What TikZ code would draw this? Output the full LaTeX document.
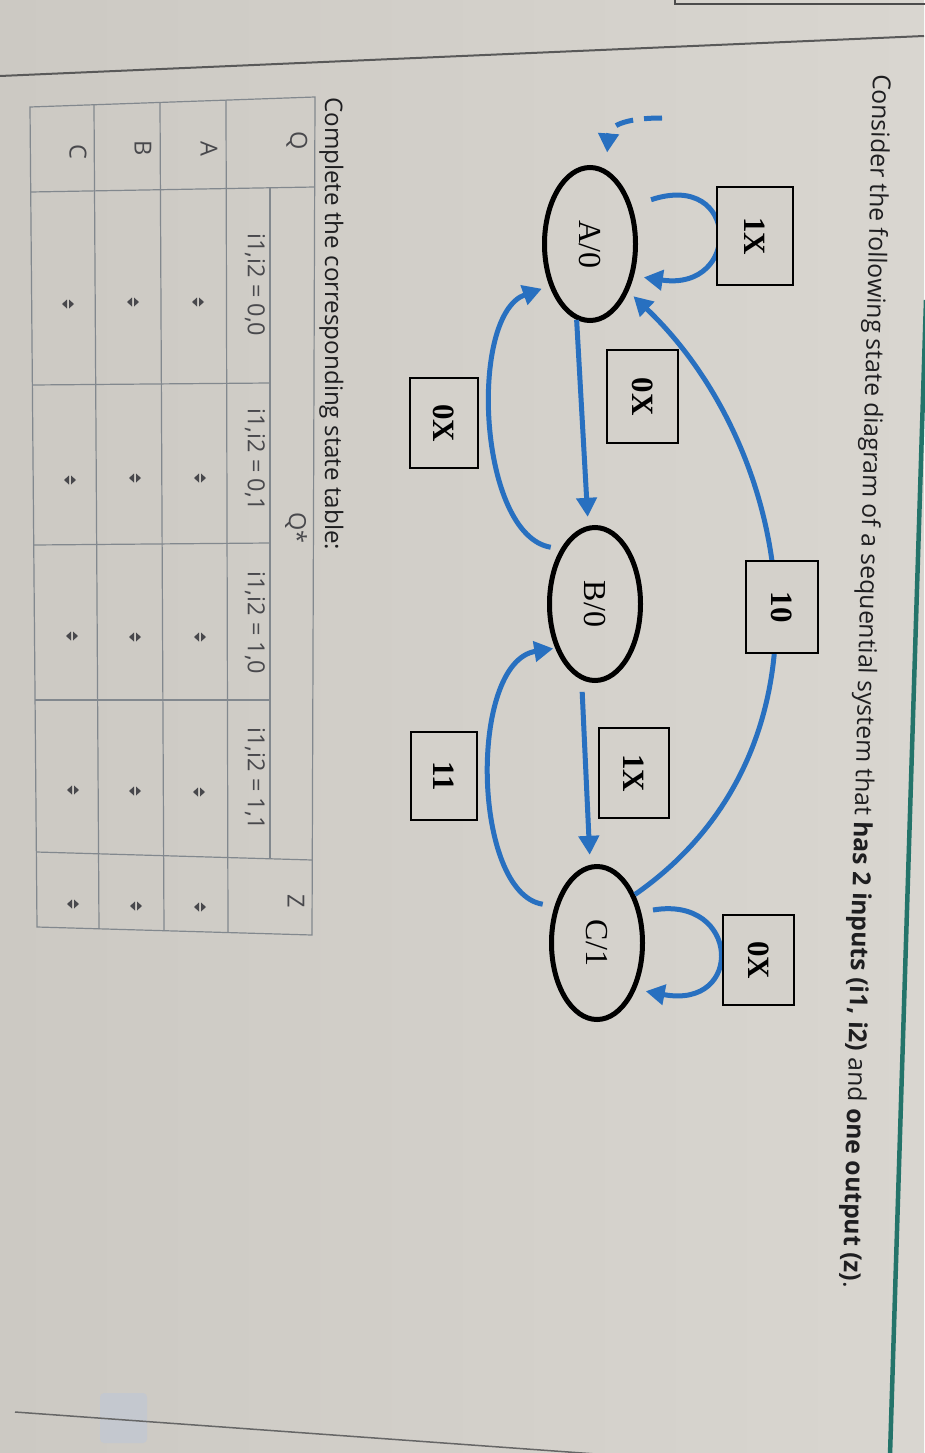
\documentclass[tikz,border=0pt]{standalone}
\usepackage{fontspec}
\setmainfont{Liberation Serif}
\newfontfamily\uifont{Open Sans}
\usetikzlibrary{arrows.meta,shapes.geometric}
\definecolor{bgL}{RGB}{204,201,195}
\definecolor{bgR}{RGB}{217,214,208}
\definecolor{bgM}{RGB}{212,209,203}
\definecolor{arcblue}{RGB}{40,112,192}
\definecolor{tealline}{RGB}{36,116,106}
\definecolor{tabline}{RGB}{130,136,142}
\definecolor{tabtext}{RGB}{72,72,76}
\definecolor{pagetext}{RGB}{30,30,32}
\definecolor{chip}{RGB}{196,200,207}
\newcommand{\rt}[1]{\rotatebox[origin=c]{-90}{#1}}
\begin{document}
\begin{tikzpicture}[x=1pt,y=-1pt,
  state/.style={ellipse, draw=black, line width=5pt, minimum width=91pt, minimum height=153pt, inner sep=0pt, font=\fontsize{32}{32}\selectfont},
  lbl/.style={draw=black, line width=1.3pt, fill=bgM, inner sep=0pt, font=\bfseries\fontsize{31}{31}\selectfont},
  edge/.style={draw=arcblue, line width=5pt, -{Triangle[length=19pt,width=20pt]}},
  tline/.style={draw=tabline, line width=1.2pt},
  ttext/.style={text=tabtext, inner sep=0pt, font=\uifont\fontsize{23.5}{23.5}\selectfont},
  dd/.pic={\fill[tabtext] (-1,-4.5)--(-6,0)--(-1,4.5)--cycle; \fill[tabtext] (1,-4.5)--(6,0)--(1,4.5)--cycle;}
]
\useasboundingbox (0,0) rectangle (924,1453);
\shade[left color=bgL, right color=bgR] (0,0) rectangle (924,1453);

% photo edges
\draw[black!65, line width=2pt] (0,76) -- (924,36);
\draw[black!70, line width=1.5pt] (675,-5) -- (675,4) -- (930,4);
\draw[tealline, line width=4.5pt] (926,300) -- (890,1455);
\fill[chip, rounded corners=4pt] (100,1393) rectangle (147,1443);
\draw[black!60, line width=1.5pt] (15,1412) -- (610,1455);

% page text
\node[rotate=-91.4, anchor=base west, inner sep=0pt, text=pagetext] (title) at (873,74)
  {\resizebox{1214pt}{!}{\uifont Consider the following state diagram of a sequential system that \textbf{has 2 inputs (i1, i2)} and \textbf{one output (z)}.}};
\node[rotate=-90, anchor=base west, inner sep=0pt, text=pagetext] (complete) at (325,97)
  {\resizebox{453pt}{!}{\uifont Complete the corresponding state table:}};

% states
\node[state] (A) at (590,244) {\rt{A/0}};
\node[state] (B) at (595,604) {\rt{B/0}};
\node[state] (C) at (597,943) {\rt{C/1}};
\coordinate (init) at (662,118);

% transitions
\draw[edge, dash pattern=on 18pt off 11pt, shorten >=17pt] (init) .. controls (620,118) and (609,128) .. (A.78);
\draw[edge, shorten <=20pt, shorten >=10pt] (A.42) .. controls (740,170) and (742,292) .. (A.-36);
\draw[edge, shorten >=9pt] (A.-100) -- (B.95);
\draw[edge, shorten <=10pt, shorten >=8pt] (B.122) .. controls (478,535) and (468,315) .. (A.-134);
\draw[edge, shorten <=12pt, shorten >=10pt] (B.-100) -- (C.95);
\draw[edge, shorten <=12pt, shorten >=2pt] (C.139) .. controls (472,893) and (468,662) .. (B.-132);
\draw[edge, shorten >=7pt] (C.52) .. controls (846,748) and (795,450) .. (A.-51);
\draw[edge, shorten <=12pt, shorten >=10pt] (C.35) .. controls (740,895) and (745,1010) .. (C.-50);

% labels
\node[lbl, minimum width=76pt, minimum height=98pt] (lAA) at (755,236) {\rt{1X}};
\node[lbl, minimum width=71pt, minimum height=93pt] (lAB) at (642.5,396.5) {\rt{0X}};
\node[lbl, minimum width=68pt, minimum height=90pt] (lBA) at (444,423) {\rt{0X}};
\node[lbl, minimum width=72pt, minimum height=92pt] (lCA) at (782,607) {\rt{10}};
\node[lbl, minimum width=70pt, minimum height=90pt] (lBC) at (634,773) {\rt{1X}};
\node[lbl, minimum width=66pt, minimum height=88pt] (lCB) at (444,776) {\rt{11}};
\node[lbl, minimum width=71pt, minimum height=90pt] (lCC) at (758.5,960) {\rt{0X}};

% state table
\draw[tline] (30,107) -- (315,97) -- (312,935) -- (37,927) -- cycle;
\draw[tline] (94,105) -- (99,929);
\draw[tline] (160,102.4) -- (164,930.7);
\draw[tline] (226,100) -- (228,932.5);
\draw[tline] (270,188) -- (270,858.5);
\draw[tline] (30.7,192) -- (314.7,187);
\draw[tline] (32.4,385) -- (270,383);
\draw[tline] (33.7,545) -- (270,543);
\draw[tline] (35,700) -- (270,700);
\draw[tline] (36.4,852) -- (312.3,860);

\node[ttext] (tQ) at (297,141) {\rt{Q}};
\node[ttext] (tA) at (209,149) {\rt{A}};
\node[ttext] (tB) at (143,149) {\rt{B}};
\node[ttext] (tC) at (78,152) {\rt{C}};
\node[ttext] (tQs) at (296,528) {\rt{Q*}};
\node[ttext] (tZ) at (296,902) {\rt{Z}};
\node[ttext] (h00) at (255,285) {\rt{i1,i2 = 0,0}};
\node[ttext] (h01) at (255,460) {\rt{i1,i2 = 0,1}};
\node[ttext] (h10) at (255,623) {\rt{i1,i2 = 1,0}};
\node[ttext] (h11) at (255,779) {\rt{i1,i2 = 1,1}};

\path (198,302) pic {dd} (133,302) pic {dd} (68,304) pic {dd};
\path (200,478) pic {dd} (135,478) pic {dd} (70,480) pic {dd};
\path (200,637) pic {dd} (135,637) pic {dd} (72,636) pic {dd};
\path (199,792) pic {dd} (135,791) pic {dd} (73,790) pic {dd};
\path (200,907) pic {dd} (136,906) pic {dd} (73,904) pic {dd};
\end{tikzpicture}
\end{document}
